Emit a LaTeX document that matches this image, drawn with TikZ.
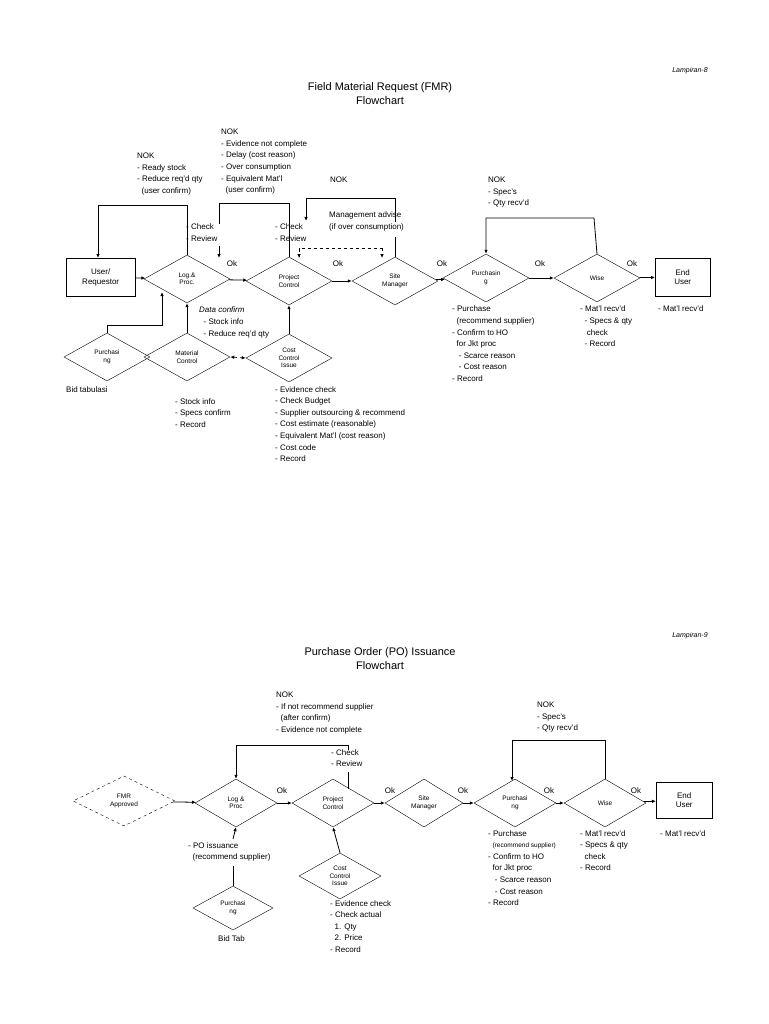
\documentclass[tikz,border=0pt]{standalone}
\usepackage{fontspec}
\setmainfont{Liberation Sans}
\usetikzlibrary{shapes.geometric,arrows.meta}
\begin{document}
\begin{tikzpicture}[x=1pt,y=-1pt,
  dia/.style={draw,diamond,minimum width=86pt,minimum height=48pt,inner sep=0pt,align=center,font=\fontsize{6.5}{7.5}\selectfont},
  box/.style={draw,minimum width=60pt,minimum height=38pt,align=center,font=\fontsize{8}{9.5}\selectfont,anchor=north west,text depth=0pt},
  txt/.style={anchor=north west,align=left,inner sep=0pt,font=\fontsize{8}{11.6}\selectfont},
  ttl/.style={align=center,font=\fontsize{11}{14}\selectfont},
  lmp/.style={font=\fontsize{7}{8}\selectfont\itshape},
  arr/.style={-{Latex[length=4pt,width=3.5pt]},thick,line width=0.8pt},
  ln/.style={line width=0.8pt},
  dsh/.style={dashed,line width=0.7pt}]
\useasboundingbox (0,0) rectangle (768,1024);
% ================= TOP CHART =================
\node[lmp] (l8) at (690,71) {Lampiran-8};
\node[ttl] (t1) at (380,94) {Field Material Request (FMR)\\Flowchart};
\node[draw,minimum width=69pt,minimum height=38pt,align=center,font=\fontsize{8}{9.5}\selectfont,anchor=north west] (user) at (66,258) {User/\\Requestor};
\node[dia] (log) at (187,279) {Log.\&\\Proc.};
\node[dia] (pc) at (289,281) {Project\\Control};
\node[dia] (sm) at (395,281) {Site\\Manager};
\node[dia] (pu) at (486,278) {Purchasin\\g};
\node[dia] (wi) at (597,278) {Wise};
\node[draw,minimum width=55pt,minimum height=38pt,align=center,font=\fontsize{8}{9.5}\selectfont,anchor=north west] (eu) at (655,258) {End\\User};
\node[dia] (pub) at (107,357) {Purchasi\\ng};
\node[dia] (mc) at (187,357) {Material\\Control};
\node[dia] (cc) at (289,358) {Cost\\Control\\Issue};
% main flow
\draw[arr] (user) -- (log);
\draw[arr] (log) -- (pc);
\draw[arr] (pc) -- (sm);
\draw[arr] (sm) -- (pu);
\draw[arr] (pu) -- (wi);
\draw[arr] (wi) -- (eu);
\foreach \x/\n in {232/o1,338/o2,442/o3,540/o4,632/o5}{\node[font=\fontsize{8}{9}\selectfont] (\n) at (\x,264) {Ok};}
% NOK loop Log -> User
\draw[arr] (log.north) -- (187,205) -| (user.north -| 98,0);
% NOK loop PC -> Log
\coordinate (c1) at (219,203);
\draw[ln] (pc.north) -- (289,203) -- (c1) -- (219,224);
\draw[arr] (219,246) -- (219,258);
% NOK loop SM -> PC
\draw[ln] (sm.north) -- (395,237);
\draw[arr] (395,222) -- (395,198) -- (306,198) -- (306,221);
% dashed
\draw[dsh] (299,257) -- (299,248) -- (382,248);
\draw[dsh,-{Latex[length=4pt,width=3.5pt]}] (382,248) -- (382,258);
\draw[dsh,-{Latex[length=4pt,width=3.5pt]}] (299,249) -- (299,258);
% NOK loop Wise -> Purchasing
\draw[arr] (wi.north) -- (594,218) -- (486,218) -- (pu.north);
% bottom row
\draw[arr] (pub.north) -- (107,325) -- (162,325) -- (162,292);
\draw[arr] (mc.north) -- (log.south);
\draw[arr] (cc.north) -- (pc.south);
\draw[dsh,{Latex[length=4pt,width=3.5pt]}-{Latex[length=4pt,width=3.5pt]}] (mc.east) -- (cc.west);
% texts
\node[txt] (n1) at (137,153) {NOK\\- Ready stock\\- Reduce req'd qty\\\ \ (user confirm)};
\node[txt] (n2) at (221,129) {NOK\\- Evidence not complete\\- Delay (cost reason)\\- Over consumption\\- Equivalent Mat'l\\\ \ (user confirm)};
\node[txt] (n3) at (330,177) {NOK};
\node[txt] (ma) at (329,212) {Management advise\\(if over consumption)};
\node[txt] (cr1) at (186,224) {- Check\\- Review};
\node[txt] (cr2) at (275,224) {- Check\\- Review};
\node[txt] (dc) at (199,307) {\textit{Data confirm}\\\ \ - Stock info\\\ \ - Reduce req'd qty};
\node[txt] (bt) at (66,387) {Bid tabulasi};
\node[txt] (mcl) at (175,398) {- Stock info\\- Specs confirm\\- Record};
\node[txt] (ccl) at (275,386) {- Evidence check\\- Check Budget\\- Supplier outsourcing \& recommend\\- Cost estimate (reasonable)\\- Equivalent Mat'l (cost reason)\\- Cost code\\- Record};
\node[txt] (n4) at (488,177) {NOK\\- Spec's\\- Qty recv'd};
\node[txt] (pl) at (452,306) {- Purchase\\\ \ (recommend supplier)\\- Confirm to HO\\\ \ for Jkt proc\\\ \ \ - Scarce reason\\\ \ \ - Cost reason\\- Record};
\node[txt] (wl) at (580,306) {- Mat'l recv'd\\\ \ - Specs \& qty\\\ \ \ check\\\ \ - Record};
\node[txt] (el) at (658,306) {- Mat'l recv'd};
% ================= BOTTOM CHART =================
\node[lmp] (l9) at (690,636) {Lampiran-9};
\node[ttl] (t2) at (380,659) {Purchase Order (PO) Issuance\\Flowchart};
\node[dia,dashed,minimum width=102pt,minimum height=50pt] (fmr) at (124,801) {FMR\\Approved};
\node[dia,minimum width=82pt] (log2) at (236,803) {Log \&\\Proc};
\node[dia,minimum width=82pt] (pc2) at (333,803) {Project\\Control};
\node[dia,minimum width=78pt] (sm2) at (424,803) {Site\\Manager};
\node[dia,minimum width=82pt] (pu2) at (515,803) {Purchasi\\ng};
\node[dia,minimum width=82pt] (wi2) at (605,803) {Wise};
\node[draw,minimum width=56pt,minimum height=36pt,align=center,font=\fontsize{8}{9.5}\selectfont,anchor=north west] (eu2) at (656,782) {End\\User};
\node[dia,minimum width=82pt,minimum height=46pt] (cc2) at (340,876) {Cost\\Control\\Issue};
\node[dia,minimum width=80pt,minimum height=44pt] (pb2) at (233,908) {Purchasi\\ng};
\draw[arr] (fmr) -- (log2);
\draw[arr] (log2) -- (pc2);
\draw[arr] (pc2) -- (sm2);
\draw[arr] (sm2) -- (pu2);
\draw[arr] (pu2) -- (wi2);
\draw[arr] (wi2) -- (eu2);
\foreach \x/\n in {282/p1,390/p2,463/p3,549/p4,636/p5}{\node[font=\fontsize{8}{9}\selectfont] (\n) at (\x,791) {Ok};}
\draw[ln] (348,789) -- (348,772);
\draw[arr] (348,750) -- (348,745) -- (236,745) -- (log2.north);
\draw[arr] (wi2.north) -- (605,740) -- (512,740) -- (512,781);
\draw[arr] (cc2.north) -- (pc2.south);
\draw[ln] (pb2.north) -- (233,866);
\draw[arr] (233,839) -- (log2.south);
\node[txt] (m1) at (276,692) {NOK\\- If not recommend supplier\\\ \ (after confirm)\\- Evidence not complete};
\node[txt] (cr3) at (331,749) {- Check\\- Review};
\node[txt] (m2) at (537,702) {NOK\\- Spec's\\- Qty recv'd};
\node[txt] (po) at (188,842) {- PO issuance\\\ \ (recommend supplier)};
\node[txt] (bt2) at (218,935) {Bid Tab};
\node[txt] (ccl2) at (330,900) {- Evidence check\\- Check actual\\\ \ 1. Qty\\\ \ 2. Price\\- Record};
\node[txt] (pl2) at (488,830) {- Purchase\\\ \ {\fontsize{6.5}{8}\selectfont(recommend supplier)}\\- Confirm to HO\\\ \ for Jkt proc\\\ \ \ - Scarce reason\\\ \ \ - Cost reason\\- Record};
\node[txt] (wl2) at (580,830) {- Mat'l recv'd\\- Specs \& qty\\\ \ check\\- Record};
\node[txt] (el2) at (660,830) {- Mat'l recv'd};
\end{tikzpicture}
\end{document}
